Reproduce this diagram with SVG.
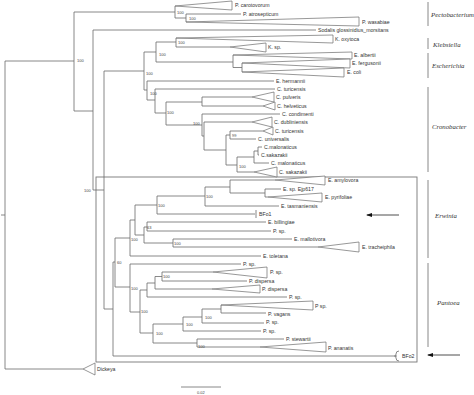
<svg xmlns="http://www.w3.org/2000/svg" width="474" height="395" viewBox="0 0 474 395">
<style>
.br{fill:none;stroke:#6b6b6b;stroke-width:0.8}
.tri{fill:#fff;stroke:#6b6b6b;stroke-width:0.7}
.lf{font-family:"Liberation Sans",Arial,sans-serif;font-size:5.2px;fill:#333}
.sp{font-family:"Liberation Sans",Arial,sans-serif;font-size:4px;fill:#444}
.gn{font-family:"Liberation Serif","Times New Roman",serif;font-style:italic;font-size:6.8px;fill:#333}
.bar{stroke:#6b6b6b;stroke-width:0.8}
.box{fill:none;stroke:#777;stroke-width:0.9}
.arr{stroke:#222;stroke-width:0.8;marker-end:url(#ah)}
</style>
<defs>
<marker id="ah" markerWidth="6" markerHeight="4" refX="5" refY="2" orient="auto" markerUnits="userSpaceOnUse">
<path d="M0,0 L6,2 L0,4 Z" fill="#111"/>
</marker>
</defs>
<rect width="474" height="395" fill="#fff"/>
<rect class="box" x="96" y="177" width="321" height="185"/>
<g id="connectors">
<path class="br" d="M1,215H5M5,61V369M5,61H74M5,369H83
M74,12V111M74,12H175M74,111H93
M175,6V18M175,18H186M186,14V22M186,14H241
M93,30V190M93,30H316M93,190H104
M104,71V309M104,71H144M104,309H113
M144,52V90M144,52H156M144,90H147
M156,42V62M156,42H176M156,62H233
M176,38V47M176,47H230
M233,55V67.5M233,67.5H242M242,63V72
M147,81V100M147,81H274M147,100H155
M155,89V113M155,89H275M155,113H166
M166,102V125M166,102H202M166,125H202
M202,97V106M202,97H252M202,106H263
M202,114V136M202,114H280M202,136H204
M204,122V150M204,122H252M204,150H226
M226,135V165M226,135H230M226,165H237
M230,131V139M230,131H263M230,139H256
M237,157V172M237,157H254M237,172H254
M254,151V163M254,151H258M254,163H269
M258,147V155M258,147H262M258,155H259
M113,262V356M113,262H115M113,356H397
M115,238V287M115,238H130M115,287H130
M130,220V256M130,220H135M130,256H261
M135,205V235M135,205H157M135,235H144
M157,196V214M157,196H205M157,214H255
M205,187V206M205,187H230M205,206H279
M230,180V193M230,180H275M230,193H265
M265,189V197M265,189H281M265,197H268
M144,227V243M144,227H147M144,243H173
M147,222V231M147,222H266M147,231H271
M173,239V247M173,239H292M173,247H318
M130,264V312M130,264H241M130,312H140
M140,290V333M140,290H147M140,333H153
M147,283V297M147,283H155M147,297H287
M155,276.5V289M155,276.5H162M155,289H212
M162,272V281M162,272H213M162,281H247
M153,324V343M153,324H183M153,343H197
M183,317V331M183,317H202M183,331H261
M202,309V323M202,309H221M202,323H264
M221,305V313M221,313H266
M197,339V347M197,339H284M197,347H260"/>
<path class="bar" d="M256,210V218" stroke-width="1.3"/>
<path class="br" d="M399,351Q396,351 396,354Q396,356 394.5,356Q396,356 396,358Q396,361 399,361"/>
</g>
<g id="support">
<text class="sp" x="77" y="61.5">100</text>
<text class="sp" x="177" y="13.5">100</text>
<text class="sp" x="189" y="19.5">100</text>
<text class="sp" x="84" y="191.5">100</text>
<text class="sp" x="146" y="74.5">100</text>
<text class="sp" x="159" y="55.5">100</text>
<text class="sp" x="178" y="43.5">100</text>
<text class="sp" x="150" y="94.5">100</text>
<text class="sp" x="167" y="113.5">100</text>
<text class="sp" x="193" y="124.5">100</text>
<text class="sp" x="232" y="136.5">99</text>
<text class="sp" x="239" y="167.5">100</text>
<text class="sp" x="131" y="240.5">100</text>
<text class="sp" x="158" y="206.5">100</text>
<text class="sp" x="206" y="197.5">100</text>
<text class="sp" x="147" y="228.5">63</text>
<text class="sp" x="174" y="244.5">100</text>
<text class="sp" x="117" y="263.5">60</text>
<text class="sp" x="131" y="289.5">100</text>
<text class="sp" x="141" y="312.5">100</text>
<text class="sp" x="163" y="277.5">100</text>
<text class="sp" x="156" y="334.5">100</text>
<text class="sp" x="186" y="325.5">100</text>
<text class="sp" x="205" y="318.5">100</text>
<text class="sp" x="198" y="347.5">100</text>
</g>
<g id="n-carotovorum"><polygon class="tri" points="175,6 232,1 232,10"/><text class="lf" x="235" y="7">P. carotovorum</text></g>
<g id="n-atrosepticum"><text class="lf" x="243" y="16">P. atrosepticum</text></g>
<g id="n-wasabiae"><polygon class="tri" points="186,22 359,17 359,26"/><text class="lf" x="362" y="24">P. wasabiae</text></g>
<g id="n-sodalis"><text class="lf" x="318" y="32">Sodalis glossinidius_morsitans</text></g>
<g id="n-koxytoca"><polygon class="tri" points="176,38 333,35 333,43"/><text class="lf" x="335" y="41">K. oxytoca</text></g>
<g id="n-ksp"><polygon class="tri" points="230,47 266,43 266,52"/><text class="lf" x="268" y="49">K. sp.</text></g>
<g id="n-ealbertii"><polygon class="tri" points="233,55 352,52 352,59"/><text class="lf" x="354" y="57">E. albertii</text></g>
<g id="n-efergusonii"><polygon class="tri" points="242,63 350,59 350,68"/><text class="lf" x="352" y="65">E. fergusonii</text></g>
<g id="n-ecoli"><polygon class="tri" points="242,72 344,68 344,77"/><text class="lf" x="347" y="74">E. coli</text></g>
<g id="n-ehermannii"><text class="lf" x="276" y="83">E. hermannii</text></g>
<g id="n-cturicensis1"><text class="lf" x="277" y="91">C. turicensis</text></g>
<g id="n-cpulveris"><polygon class="tri" points="252,97 274,92 274,102"/><text class="lf" x="276" y="99">C. pulveris</text></g>
<g id="n-chelveticus"><polygon class="tri" points="263,106 275,102 275,110"/><text class="lf" x="277" y="108">C. helveticus</text></g>
<g id="n-ccondimenti"><text class="lf" x="282" y="116">C. condimenti</text></g>
<g id="n-cdubliniensis"><polygon class="tri" points="252,122 272,117 272,127"/><text class="lf" x="274" y="124">C. dubliniensis</text></g>
<g id="n-cturicensis2"><polygon class="tri" points="263,131 273,127 273,135"/><text class="lf" x="275" y="133">C. turicensis</text></g>
<g id="n-cuniversalis"><text class="lf" x="258" y="141">C. universalis</text></g>
<g id="n-cmalonaticus1"><text class="lf" x="264" y="149">C.malonaticus</text></g>
<g id="n-csakazakii1"><text class="lf" x="261" y="157">C.sakazakii</text></g>
<g id="n-cmalonaticus2"><text class="lf" x="271" y="165">C. malonaticus</text></g>
<g id="n-csakazakii2"><polygon class="tri" points="254,172 277,167 277,177"/><text class="lf" x="279" y="174">C. sakazakii</text></g>
<g id="n-eamylovora"><polygon class="tri" points="275,180 325,176 325,185"/><text class="lf" x="328" y="182">E. amylovora</text></g>
<g id="n-eejp617"><text class="lf" x="283" y="191">E. sp. Ejp617</text></g>
<g id="n-epyrifoliae"><polygon class="tri" points="268,197 322,193 322,202"/><text class="lf" x="325" y="199">E. pyrifoliae</text></g>
<g id="n-etasmaniensis"><text class="lf" x="281" y="208">E. tasmaniensis</text></g>
<g id="n-bfo1"><text class="lf" x="259" y="216">BFo1</text></g>
<g id="n-ebillingiae"><text class="lf" x="268" y="224">E. billingiae</text></g>
<g id="n-psp1"><text class="lf" x="273" y="233">P. sp.</text></g>
<g id="n-emallotivora"><text class="lf" x="294" y="241">E. mallotivora</text></g>
<g id="n-etracheiphila"><polygon class="tri" points="318,247 359,242 359,252"/><text class="lf" x="362" y="249">E. tracheiphila</text></g>
<g id="n-etoletana"><text class="lf" x="263" y="258">E. toletana</text></g>
<g id="n-psp2"><text class="lf" x="243" y="266">P.  sp.</text></g>
<g id="n-psp3"><polygon class="tri" points="213,272 267,267 267,278"/><text class="lf" x="270" y="274">P. sp.</text></g>
<g id="n-pdispersa1"><text class="lf" x="249" y="283">P. dispersa</text></g>
<g id="n-pdispersa2"><polygon class="tri" points="212,289 260,285 260,293"/><text class="lf" x="262" y="291">P. dispersa</text></g>
<g id="n-psp4"><text class="lf" x="289" y="299">P. sp.</text></g>
<g id="n-psp5"><polygon class="tri" points="221,305 313,301 313,310"/><text class="lf" x="315" y="308">P sp.</text></g>
<g id="n-pvagans"><text class="lf" x="268" y="316">P. vagans</text></g>
<g id="n-psp6"><text class="lf" x="266" y="324">P. sp.</text></g>
<g id="n-psp7"><text class="lf" x="263" y="333">P. sp.</text></g>
<g id="n-pstewartii"><text class="lf" x="286" y="341">P. stewartii</text></g>
<g id="n-pananatis"><polygon class="tri" points="260,347 326,342 326,352"/><text class="lf" x="328" y="350">P. ananatis</text></g>
<g id="n-bfo2"><text class="lf" x="402" y="358">BFo2</text></g>
<g id="n-dickeya"><polygon class="tri" points="83,369 95,363 95,375"/><text class="lf" x="97" y="371">Dickeya</text></g>
<g id="clades">
<path class="bar" d="M428,2V26M428,38V49M428,53V78M428,87V172M428,180V258M428,263V347"/>
<text class="gn" x="431" y="17">Pectobacterium</text>
<text class="gn" x="433" y="47">Klebsiella</text>
<text class="gn" x="432" y="68">Escherichia</text>
<text class="gn" x="432" y="129">Cronobacter</text>
<text class="gn" x="435" y="218">Erwinia</text>
<text class="gn" x="437" y="305">Pantoea</text>
</g>
<g id="arrows">
<line class="arr" x1="399" y1="215" x2="367" y2="215"/>
<line class="arr" x1="460" y1="355" x2="428" y2="355"/>
</g>
<g id="scale">
<path class="bar" d="M181,387H221"/>
<text class="sp" x="197" y="394">0.02</text>
</g>
</svg>
